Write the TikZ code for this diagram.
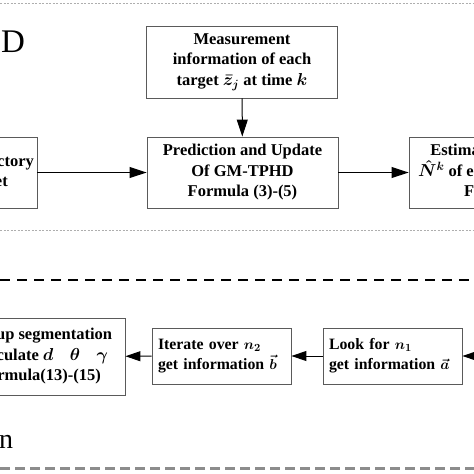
\documentclass[tikz,border=0pt]{standalone}
\usepackage{fontspec}
\setmainfont{Liberation Serif}
\usepackage{bm}
\usetikzlibrary{arrows.meta}
\definecolor{boxgray}{HTML}{5A5A5A}
\definecolor{linegray}{HTML}{8C8C8C}

\begin{document}
\begin{tikzpicture}[x=1pt, y=-1pt,
  box/.style={draw=boxgray, line width=0.9pt, align=center,
              font=\fontsize{16.5}{20.5}\selectfont\bfseries\boldmath,
              inner sep=2pt},
  lbox/.style={box, align=left, inner xsep=6pt, text width=127pt,
               font=\fontsize{15.8}{20}\selectfont\bfseries\boldmath,
               minimum height=56pt},
  flow/.style={-{Triangle[length=15pt,width=10pt]}, line width=1pt},
  bigflow/.style={flow, -{Triangle[length=17pt,width=11pt]}},
  sepdot/.style={linegray!70, line width=0.6pt, dash pattern=on 2pt off 1.5pt},
  sepdash/.style={line width=1.8pt, dash pattern=on 10pt off 7pt},
]
\useasboundingbox (0,0) rectangle (474,474);
\clip (0,0) rectangle (474,474);

% section rules
\draw[sepdot] (0,3) -- (474,3);
\draw[sepdot] (0,230) -- (474,230);
\draw[sepdash] (0,280) -- (474,280);
\draw[sepdash, linegray, line width=3pt, dash pattern=on 10pt off 5pt] (0,468) -- (474,468);

\node[anchor=base west, inner sep=0, font=\fontsize{33}{33}\selectfont] (titleD) at (1,52) {D};
\node[anchor=base west, inner sep=0, font=\fontsize{28}{28}\selectfont] (titlen) at (-1,448) {n};

% upper row
\node[box, minimum width=191pt, minimum height=72pt] (meas) at (242,62)
  {Measurement\\information of each\\target $\bm{\bar{z}}_{\bm j}$ at time $\bm k$};
\node[box, minimum width=191pt, minimum height=71pt] (pred) at (242.5,172.5)
  {Prediction and Update\\Of GM-TPHD\\Formula (3)-(5)};
\node[box, minimum width=124pt, minimum height=71pt] (traj) at (-25,172.5)
  {Initial trajectory\\target set};
\node[box, minimum width=191pt, minimum height=71pt] (estim) at (504.5,172.5)
  {Estimate the number\\$\bm{\hat{N}}^{\bm k}$ of each target group\\Formula(6)};

\draw[bigflow] (meas) -- (pred);
\draw[bigflow] (traj) -- (pred);
\draw[bigflow] (pred) -- (estim);

% lower row
\node[box, minimum width=170pt, minimum height=77pt] (seg) at (40,356.5)
  {Group segmentation\\Calculate $d$\quad$\theta$\quad$\gamma$\\Formula(13)-(15)};
\node[lbox] (iter) at (221.5,356)
  {Iterate over $\bm n_{\bm 2}$\\get information $\bm{\vec{b}}$};
\node[lbox] (look) at (392.5,356)
  {Look for $\bm n_{\bm 1}$\\get information $\bm{\vec{a}}$};
\coordinate (inlook) at (495,356);

\draw[flow] (inlook) -- (look);
\draw[flow] (look) -- (iter);
\draw[flow] (iter) -- (seg);

\end{tikzpicture}
\end{document}
